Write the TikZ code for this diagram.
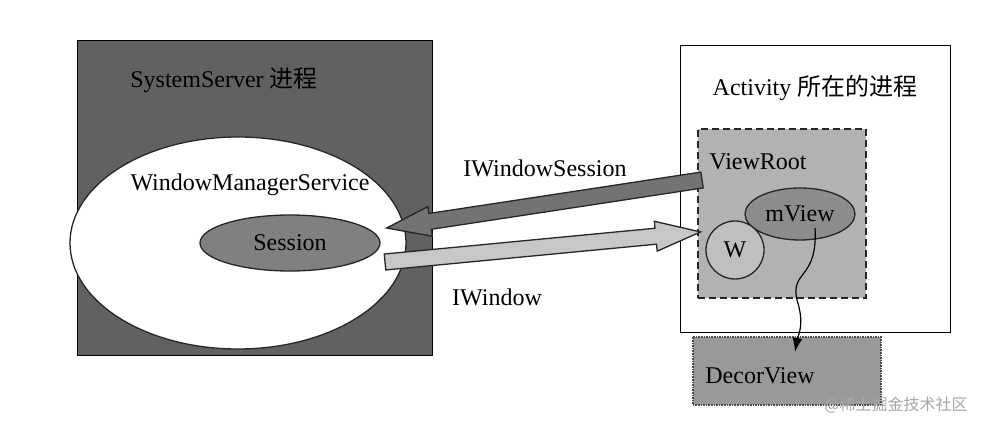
\documentclass[tikz,border=0pt]{standalone}
\usepackage{fontspec}
\setmainfont{Liberation Serif}
\newfontfamily\cjk{Noto Sans CJK SC}
\usetikzlibrary{decorations.pathmorphing,arrows.meta,shapes.geometric}
\begin{document}
\begin{tikzpicture}[x=1pt,y=-1pt,font=\fontsize{24}{26}\selectfont,
  lbl/.style={inner sep=0pt},
  fat/.style={draw=black!85,line width=1.3pt}]
\useasboundingbox (0,0) rectangle (991,430);
\fill[white] (0,0) rectangle (991,430);
% left process
\node[draw=black,line width=1.2pt,fill=black!62,minimum width=355,minimum height=315,anchor=north west,inner sep=0] (sys) at (77,40) {};
\node[lbl] (systxt) at (224,80) {SystemServer {\cjk 进程}};
\node[draw=black!85,line width=1.3pt,fill=white,ellipse,minimum width=336,minimum height=212] (wms) at (238,243) {};
\node[lbl] (wmstxt) at (250,185) {WindowManagerService};
\node[draw=black!85,line width=1.3pt,fill=black!50,ellipse,minimum width=180,minimum height=56] (sess) at (290,243) {Session};
% right process
\node[draw=black,line width=1.2pt,fill=white,minimum width=270,minimum height=287,anchor=north west,inner sep=0] (act) at (680,45) {};
\node[lbl] (acttxt) at (815,88) {Activity {\cjk 所在的进程}};
\node[draw=black!85,dashed,dash pattern=on 7pt off 4pt,line width=1.6pt,fill=black!30,minimum width=168,minimum height=169,anchor=north west,inner sep=0] (vr) at (697,128) {};
\node[lbl] (vrtxt) at (758,162) {ViewRoot};
\node[draw=black!85,line width=1.3pt,fill=black!45,ellipse,minimum width=110,minimum height=52,inner sep=0] (mv) at (800,214) {mView};
\node[draw=black!85,line width=1.3pt,fill=black!25,circle,minimum size=58,inner sep=0] (w) at (735,250) {W};
\node[draw=black!70,densely dotted,line width=1.6pt,fill=black!40,minimum width=188,minimum height=68,anchor=north west,inner sep=0] (dv) at (692,336) {};
\node[lbl] (dvtxt) at (760,376) {DecorView};
% block arrows
\coordinate (a1) at (702,180);
\coordinate (a2) at (385,262);
\begin{scope}[shift={(a1)},rotate=188.66]
\draw[fat,fill=black!55] (0,-8) -- (275,-8) -- (275,-15) -- (319,0) -- (275,15) -- (275,8) -- (0,8) -- cycle;
\end{scope}
\begin{scope}[shift={(a2)},rotate=5.44]
\draw[fat,fill=black!22] (0,-8) -- (272,-8) -- (272,-15) -- (317,0) -- (272,15) -- (272,8) -- (0,8) -- cycle;
\end{scope}
\node[lbl] (iws) at (545,168) {IWindowSession};
\node[lbl] (iw) at (497,297) {IWindow};
% wavy link
\draw[line width=1.2pt,-{Latex[length=14pt,width=10pt]}] (815,228) .. controls (818,280) and (790,270) .. (797,300) .. controls (805,325) and (798,335) .. (795,352);
\node[lbl,text=black!35,font=\cjk\fontsize{16}{18}\selectfont] (wm) at (896,405) {@稀土掘金技术社区};
\end{tikzpicture}
\end{document}
